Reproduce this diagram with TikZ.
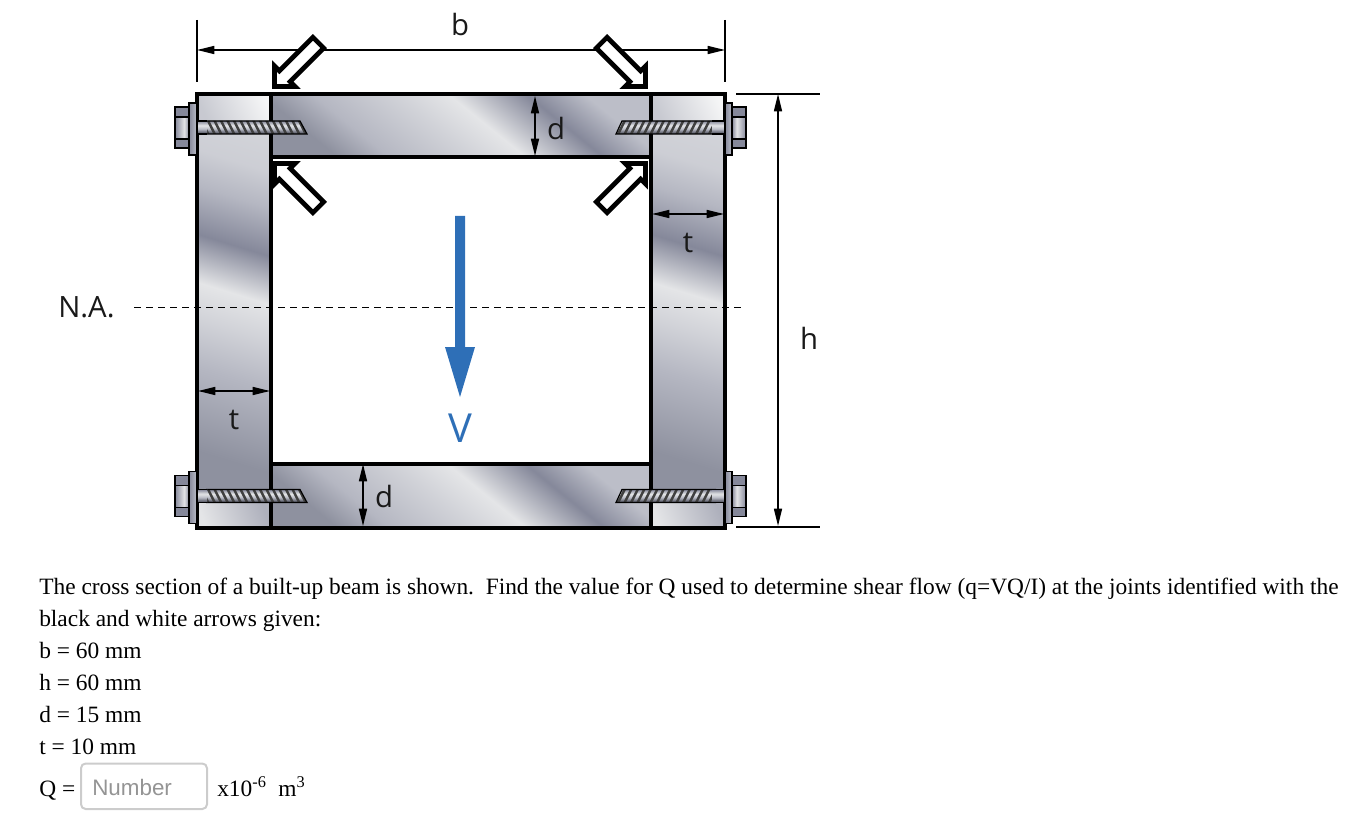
\documentclass[tikz,border=0pt]{standalone}
\usepackage{fontspec}
\setmainfont{Liberation Serif}
\newfontfamily\labelfont{Open Sans}
\newfontfamily\inputfont{Liberation Sans}
\usetikzlibrary{arrows.meta}
\definecolor{mA}{HTML}{8E919F}
\definecolor{mB}{HTML}{B5B7C2}
\definecolor{mC}{HTML}{E4E5E7}
\definecolor{mD}{HTML}{85889A}
\definecolor{mE}{HTML}{BCBEC8}
\definecolor{blueV}{HTML}{2E6FB7}
\pgfdeclarehorizontalshading{plateshade}{100bp}{
 color(0bp)=(mA); color(25bp)=(mA); color(33bp)=(mB); color(46bp)=(mB!40!mC); color(54bp)=(mC);
 color(66bp)=(mD); color(75bp)=(mE); color(100bp)=(mE)}
\pgfdeclarehorizontalshading{columnshade}{100bp}{
 color(0bp)=(mA); color(25bp)=(mA); color(39bp)=(mB); color(47bp)=(mB!40!mC); color(53bp)=(mC);
 color(61bp)=(mD); color(69bp)=(mB); color(75bp)=(mC!50!mB); color(100bp)=(mC)}
\pgfdeclarehorizontalshading{blockshade}{100bp}{
 color(0bp)=(mB!60!mC); color(25bp)=(mB!60!mC); color(75bp)=(white!60!mC); color(100bp)=(white)}
\pgfdeclarehorizontalshading{footshade}{100bp}{
 color(0bp)=(mC); color(25bp)=(mC); color(75bp)=(mB!85!mD); color(100bp)=(mB)}
\pgfdeclareverticalshading{shankshade}{100bp}{
 color(0bp)=(mD!70!black); color(30bp)=(mD!70!black); color(45bp)=(mE); color(58bp)=(mC); color(75bp)=(mD); color(100bp)=(mD)}
\pgfdeclarehorizontalshading{nutshadeL}{100bp}{
 color(0bp)=(mD); color(25bp)=(mD); color(58bp)=(mC); color(75bp)=(mD); color(100bp)=(mD)}
\pgfdeclarehorizontalshading{nutshadeR}{100bp}{
 color(0bp)=(mD); color(25bp)=(mD); color(42bp)=(mC); color(75bp)=(mD); color(100bp)=(mD)}
\pgfdeclarehorizontalshading{washershade}{100bp}{
 color(0bp)=(mD); color(25bp)=(mD); color(75bp)=(mE); color(100bp)=(mE)}
\tikzset{
 x=0.75pt,y=-0.75pt,
 outline/.style={draw=black,line width=2.3pt},
 thin outline/.style={draw=black,line width=0.9pt},
 hairline/.style={draw=black,line width=1.1pt},
 dimline/.style={draw=black,line width=1.1pt,{Triangle[length=13pt,width=6pt]}-{Triangle[length=13pt,width=6pt]}},
 block arrow/.style={draw=black,fill=white,line width=3.5pt,miter limit=10},
 dimlabel/.style={font=\labelfont\fontsize{22}{26}\selectfont,text=black!90,inner sep=0pt},
 bodyline/.style={anchor=base west,inner sep=0pt,font=\fontsize{17.55}{21}\selectfont},
}
\newcommand{\blockarrow}[3]{%
 \begin{scope}[shift={(#1,#2)},rotate=#3]
 \path[block arrow] (-3.5,0) -- (-18,14.5) -- (-18,7.6) -- (-65.5,7.6) -- (-65.5,-7.6) -- (-18,-7.6) -- (-18,-14.5) -- cycle;
 \end{scope}}
\newcommand{\threadleft}{%
 \path[shading=shankshade] (206,-6.5) -- (300,-6.5) -- (307,6.5) -- (206,6.5) -- cycle;
 \begin{scope}
 \clip (206,-6.5) -- (300,-6.5) -- (307,6.5) -- (206,6.5) -- cycle;
 \foreach \q in {200,206.5,...,306} {\fill[black!75] (\q,-7) -- (\q+2.8,-7) -- (\q+9.8,7) -- (\q+7,7) -- cycle;}
 \end{scope}
 \draw[thin outline] (206,-6.5) -- (300,-6.5) -- (307,6.5) -- (206,6.5);
 \path[shading=shankshade] (197,-6.5) rectangle (207,6.5);
 \draw[thin outline] (197,-6.5) -- (207,-6.5) (197,6.5) -- (207,6.5);
 \path[shading=washershade] (189,-24.5) rectangle (197,27.5);
 \draw[thin outline] (189,-24.5) rectangle (197,27.5);
 \path[thin outline,fill=mD] (175,-20.5) rectangle (189,-10.5);
 \path[thin outline,fill=mD] (175,11.5) rectangle (189,20.5);
 \path[shading=nutshadeL] (175,-10.5) rectangle (189,11.5);
 \draw[thin outline] (175,-10.5) rectangle (189,11.5);
}
\newcommand{\threadright}{%
 \path[shading=shankshade] (622,-6.5) -- (716,-6.5) -- (716,6.5) -- (616,6.5) -- cycle;
 \begin{scope}
 \clip (622,-6.5) -- (716,-6.5) -- (716,6.5) -- (616,6.5) -- cycle;
 \foreach \q in {610,616.5,...,710} {\fill[black!75] (\q+7,-7) -- (\q+9.8,-7) -- (\q+2.8,7) -- (\q,7) -- cycle;}
 \end{scope}
 \draw[thin outline] (716,-6.5) -- (622,-6.5) -- (616,6.5) -- (716,6.5);
 \path[shading=shankshade] (712,-6.5) rectangle (725,6.5);
 \draw[thin outline] (712,-6.5) -- (725,-6.5) (712,6.5) -- (725,6.5);
 \path[shading=washershade] (725,-24.5) rectangle (732,27.5);
 \draw[thin outline] (725,-24.5) rectangle (732,27.5);
 \path[thin outline,fill=mD] (732,-20.5) rectangle (746,-10.5);
 \path[thin outline,fill=mD] (732,11.5) rectangle (746,20.5);
 \path[shading=nutshadeR] (732,-10.5) rectangle (746,11.5);
 \draw[thin outline] (732,-10.5) rectangle (746,11.5);
}
\begin{document}
\begin{tikzpicture}
\useasboundingbox (0,0) rectangle (1362,834);
% plates
\path[shading=plateshade,shading angle=51] (271,94) rectangle (651,157);
\path[shading=plateshade,shading angle=51] (271,464) rectangle (651,528);
% columns
\path[shading=columnshade,shading angle=73] (197,134) rectangle (271,489);
\path[shading=columnshade,shading angle=73] (651,134) rectangle (725,489);
% corner blocks
\path[shading=blockshade,shading angle=25] (197,94) rectangle (271,121);
\path[shading=blockshade,shading angle=25] (651,94) rectangle (725,121);
\path[shading=footshade,shading angle=20] (197,503) rectangle (271,528);
\path[shading=footshade,shading angle=20] (651,503) rectangle (725,528);
% outlines
\draw[outline] (197,94) rectangle (725,528);
\draw[outline] (271,94) -- (271,528) (651,94) -- (651,528);
\draw[outline] (271,157) -- (651,157) (271,464) -- (651,464);
% N.A. line
\coordinate (na1) at (134,307.5);
\coordinate (na2) at (745,307.5);
\draw[black,line width=1.25pt,dash pattern=on 5.5pt off 3.5pt] (na1) -- (na2);
\node[dimlabel,anchor=base west] (nalabel) at (58,317) {N.A.};
% bolts
\begin{scope}[shift={(0,127.5)}]\threadleft\threadright\end{scope}
\begin{scope}[shift={(0,496)}]\threadleft\threadright\end{scope}
% dimension b
\coordinate (bl) at (197,50); \coordinate (br) at (725,50);
\coordinate (bl1) at (197,20); \coordinate (bl2) at (197,82);
\coordinate (br1) at (725,20); \coordinate (br2) at (725,82);
\draw[hairline] (bl1) -- (bl2);
\draw[hairline] (br1) -- (br2);
\draw[dimline] (bl) -- (br);
\node[dimlabel] (blabel) at (460,25) {b};
% dimension h
\coordinate (ht) at (778,94); \coordinate (hb) at (778,526);
\coordinate (ht1) at (736,94); \coordinate (ht2) at (820,94);
\coordinate (hb1) at (736,527); \coordinate (hb2) at (820,527);
\draw[hairline] (ht1) -- (ht2);
\draw[hairline] (hb1) -- (hb2);
\draw[dimline] (ht) -- (hb);
\node[dimlabel] (hlabel) at (809,338) {h};
% dimension d
\coordinate (d1t) at (535,96); \coordinate (d1b) at (535,156);
\coordinate (d2t) at (363,464); \coordinate (d2b) at (363,526);
\draw[dimline] (d1t) -- (d1b);
\draw[dimline] (d2t) -- (d2b);
\node[dimlabel] (d1label) at (556,129) {d};
\node[dimlabel] (d2label) at (384,496) {d};
% dimension t
\coordinate (t1l) at (198,391); \coordinate (t1r) at (270,391);
\coordinate (t2l) at (652,214); \coordinate (t2r) at (724,214);
\draw[dimline] (t1l) -- (t1r);
\draw[dimline] (t2l) -- (t2r);
\node[dimlabel] (t1label) at (234,420) {t};
\node[dimlabel] (t2label) at (688,243) {t};
% block arrows
\blockarrow{272}{89}{225}
\blockarrow{648}{89}{-45}
\blockarrow{272}{161}{135}
\blockarrow{648}{161}{45}
% shear force
\fill[blueV] (455,216) -- (465,216) -- (465,347) -- (475,347) -- (460,397) -- (445,347) -- (455,347) -- cycle;
\node[dimlabel,text=blueV,font=\labelfont\fontsize{30}{34}\selectfont] (vlabel) at (460,428) {V};
% statement
\node[bodyline] (l1) at (39,594) {The cross section of a built-up beam is shown.\ \ Find the value for Q used to determine shear flow (q=VQ/I) at the joints identified with the};
\node[bodyline] (l2) at (39,626) {black and white arrows given:};
\node[bodyline] (l3) at (39,658) {b = 60 mm};
\node[bodyline] (l4) at (39,690) {h = 60 mm};
\node[bodyline] (l5) at (39,722) {d = 15 mm};
\node[bodyline] (l6) at (39,754) {t = 10 mm};
\node[bodyline] (l7) at (39,796) {Q =};
\draw[draw=black!20,line width=1.5pt,rounded corners=3.5pt] (81,763.5) rectangle (207,809);
\node[anchor=base west,inner sep=0pt,font=\inputfont\fontsize{16.8}{20}\selectfont,text=black!42] (numberbox) at (92,795) {Number};
\node[bodyline] (unit) at (217,796) {x10\textsuperscript{-6}\ \ m\textsuperscript{3}};
\end{tikzpicture}
\end{document}
